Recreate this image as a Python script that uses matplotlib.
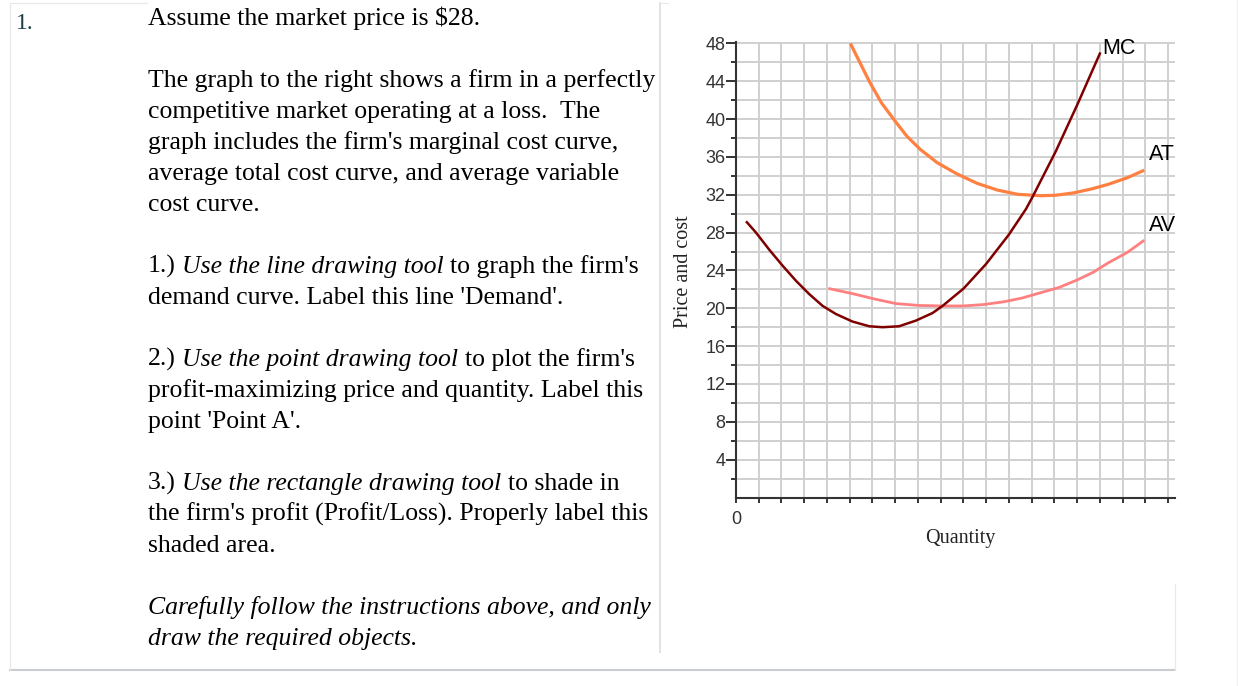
import matplotlib.pyplot as plt
from matplotlib.lines import Line2D
from matplotlib.transforms import IdentityTransform

# %% data
mcQty = [0.44, 0.88, 1.46, 2.05, 2.64, 3.22, 3.81, 4.39, 5.12, 5.86, 6.44, 7.17, 7.91, 8.64,
         9.08, 10.01, 11.0, 12.0, 12.75, 13.02, 14.06, 15.0, 16.02]
mcPrice = [29.2, 28.0, 26.2, 24.5, 22.9, 21.5, 20.25, 19.4, 18.6, 18.1, 18.0, 18.1, 18.7, 19.5,
           20.25, 22.1, 24.7, 27.8, 30.5, 31.7, 36.6, 41.5, 47.05]

atcQty = [5.03, 5.45, 5.89, 6.4, 6.99, 7.51, 8.1, 8.84, 9.72, 10.61, 11.49, 12.38, 13.41,
          14.06, 14.84, 15.6, 16.36, 17.2, 17.95]
atcPrice = [48.0, 45.96, 43.85, 41.7, 39.8, 38.2, 36.8, 35.4, 34.2, 33.2, 32.5, 32.05, 31.9,
            31.95, 32.2, 32.6, 33.1, 33.8, 34.6]

avcQty = [4.06, 5.12, 6.15, 7.03, 8.05, 9.08, 10.01, 10.9, 11.8, 12.6, 13.32, 14.2, 15.0,
          15.7, 16.36, 17.2, 17.95]
avcPrice = [22.1, 21.55, 20.95, 20.5, 20.3, 20.25, 20.25, 20.4, 20.7, 21.1, 21.6, 22.2, 23.0,
            23.8, 24.8, 25.9, 27.2]

curveNames = ["MC", "ATC", "AVC"]
yTickValues = list(range(4, 49, 4))
yMinorValues = list(range(2, 48, 4))
xTickValues = list(range(0, 20))

textLines = [
    [("Assume the market price is $28.", "normal")],
    None,
    [("The graph to the right shows a firm in a perfectly", "normal")],
    [("competitive market operating at a loss.  The", "normal")],
    [("graph includes the firm's marginal cost curve,", "normal")],
    [("average total cost curve, and average variable", "normal")],
    [("cost curve.", "normal")],
    None,
    [("1.) ", "normal"), ("Use the line drawing tool", "italic"), (" to graph the firm's", "normal")],
    [("demand curve. Label this line 'Demand'.", "normal")],
    None,
    [("2.) ", "normal"), ("Use the point drawing tool", "italic"), (" to plot the firm's", "normal")],
    [("profit-maximizing price and quantity. Label this", "normal")],
    [("point 'Point A'.", "normal")],
    None,
    [("3.) ", "normal"), ("Use the rectangle drawing tool", "italic"), (" to shade in", "normal")],
    [("the firm's profit (Profit/Loss). Properly label this", "normal")],
    [("shaded area.", "normal")],
    None,
    [("Carefully follow the instructions above, and only", "italic")],
    [("draw the required objects.", "italic")],
]

# %%
W, H = 1238, 686
fig = plt.figure(figsize=(W / 100, H / 100), dpi=100)
pxTrans = IdentityTransform()

# page frame lines (pixel coords, y from top)
frameLines = [
    ((10, 1175), (670, 670), "#c9cdd2", 1.5),
    ((10, 10), (3, 670), "#e8e8e8", 0.8),
    ((10, 147), (3, 3), "#e8e8e8", 0.8),
    ((660, 660), (3, 652), "#e2e2e6", 1.4),
    ((660, 668), (3, 3), "#e8e8e8", 0.8),
    ((1175, 1175), (584, 670), "#e8e8e8", 0.8),
    ((1237, 1237), (0, 686), "#eeeeee", 0.8),
]
for xs, ys, col, lw in frameLines:
    fig.add_artist(Line2D(xs, [H - y for y in ys], color=col, lw=lw,
                          transform=pxTrans))

# %% chart axes
xMax, yMax = 19.3, 48.15
pxPerY = 9.46
x0, y0 = 736, 497.5
axTop = y0 - yMax * pxPerY
ax = fig.add_axes([x0 / W, (H - y0) / H, (1175 - x0) / W, (y0 - axTop) / H])
ax.set_xlim(0, xMax)
ax.set_ylim(0, yMax)

ax.set_xticks(xTickValues)
ax.set_xticklabels(["0"] + [""] * (len(xTickValues) - 1))
ax.set_yticks(yTickValues)
ax.set_yticks(yMinorValues, minor=True)
ax.grid(True, which="major", color="#d0d0d0", lw=1.4)
ax.grid(True, which="minor", axis="y", color="#d0d0d0", lw=1.4)
ax.set_axisbelow(True)

for side in ("top", "right"):
    ax.spines[side].set_visible(False)
for side in ("left", "bottom"):
    ax.spines[side].set_color("#333333")
    ax.spines[side].set_linewidth(1.5)

tickFont = "Liberation Sans"
ax.tick_params(axis="y", which="major", length=7, width=1.4, color="#333333",
               pad=0.5, labelsize=13, labelcolor="#333333")
ax.tick_params(axis="y", which="minor", length=3.6, width=1.4, color="#333333")
ax.tick_params(axis="x", which="major", length=3.6, width=1.4, color="#333333",
               pad=6, labelsize=13, labelcolor="#333333")
for lab in ax.get_xticklabels() + ax.get_yticklabels():
    lab.set_fontfamily(tickFont)

ax.plot(atcQty, atcPrice, color="#ff8040", lw=2.3, solid_capstyle="butt")
ax.plot(avcQty, avcPrice, color="#ff8080", lw=2.0, solid_capstyle="butt")
ax.plot(mcQty, mcPrice, color="#800000", lw=1.8, solid_capstyle="butt")

# curve labels, the ATC / AVC ones are cut at the chart edge
ax.text(16.12, 47.5, curveNames[0], fontsize=15.5, family=tickFont,
        va="center", ha="left", clip_on=False)
ax.text(18.15, 36.3, curveNames[1], fontsize=15.5, family=tickFont,
        va="center", ha="left", clip_on=True)
ax.text(18.15, 28.8, curveNames[2], fontsize=15.5, family=tickFont,
        va="center", ha="left", clip_on=True)

serif = "Liberation Serif"
fig.text(683 / W, 1 - 272 / H, "Price and cost", rotation=90, family=serif,
         fontsize=14.5, ha="center", va="center", color="#222222")
fig.text(960 / W, 1 - 539 / H, "Quantity", family=serif, fontsize=14.5,
         ha="center", va="center", color="#222222")

# %% left-hand question text
fig.text(16, H - 29, "1.", family=serif, fontsize=17, color="#1c3b47",
         transform=pxTrans, va="baseline")

renderer = fig.canvas.get_renderer()
textSize = 18.5


def space_width(style):
    a = fig.text(0, 0, "a a", family=serif, fontsize=textSize, style=style)
    b = fig.text(0, 0, "aa", family=serif, fontsize=textSize, style=style)
    w = a.get_window_extent(renderer).width - b.get_window_extent(renderer).width
    a.remove()
    b.remove()
    return w


spaceW = {s: space_width(s) for s in ("normal", "italic")}

lineY = 18 + 7
for line in textLines:
    if line is not None:
        xPos = 148
        for piece, style in line:
            lead = len(piece) - len(piece.lstrip(" "))
            trail = len(piece) - len(piece.rstrip(" "))
            xPos += lead * spaceW[style]
            core = piece.strip(" ")
            t = fig.text(xPos, H - lineY, core, family=serif, fontsize=textSize,
                         style=style, transform=pxTrans, va="baseline")
            xPos = t.get_window_extent(renderer).x1 + trail * spaceW[style]
    lineY += 31

fig.savefig("out.png", dpi=100)
